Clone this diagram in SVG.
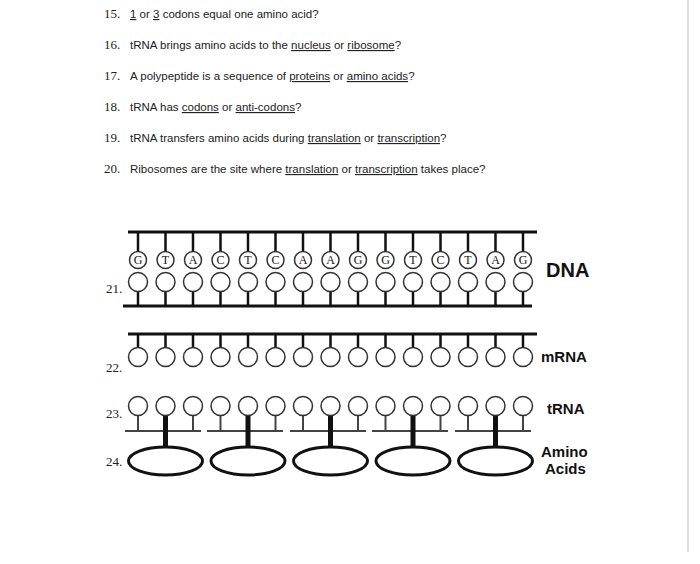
<svg xmlns="http://www.w3.org/2000/svg" width="700" height="564" viewBox="0 0 700 564">
<style>
.q{font-family:"Liberation Sans",Arial,sans-serif;font-size:11.5px;fill:#222}
.n{font-family:"Liberation Serif",serif;font-size:13px;fill:#222}
.u{text-decoration:underline}
.lbl{font-family:"Liberation Sans",Arial,sans-serif;font-weight:bold;fill:#111}
.b{font-family:"Liberation Serif",serif;font-size:12px;fill:#111;text-anchor:middle}
.c{fill:#fff;stroke:#333;stroke-width:1.5}
.s{stroke:#111;stroke-width:2.5}
.ln{stroke:#111;stroke-width:3}
</style>
<rect width="700" height="564" fill="#fff"/>
<line x1="688" y1="0" x2="688" y2="552" stroke="#bbb" stroke-width="1"/>
<g id="questions">
<text class="n" x="104" y="18">15.</text><text class="q" x="130" y="18"><tspan class="u">1</tspan> or <tspan class="u">3</tspan> codons equal one amino acid?</text>
<text class="n" x="104" y="49">16.</text><text class="q" x="130" y="49">tRNA brings amino acids to the <tspan class="u">nucleus</tspan> or <tspan class="u">ribosome</tspan>?</text>
<text class="n" x="104" y="80">17.</text><text class="q" x="130" y="80">A polypeptide is a sequence of <tspan class="u">proteins</tspan> or <tspan class="u">amino acids</tspan>?</text>
<text class="n" x="104" y="111">18.</text><text class="q" x="130" y="111">tRNA has <tspan class="u">codons</tspan> or <tspan class="u">anti-codons</tspan>?</text>
<text class="n" x="104" y="142">19.</text><text class="q" x="130" y="142">tRNA transfers amino acids during <tspan class="u">translation</tspan> or <tspan class="u">transcription</tspan>?</text>
<text class="n" x="104" y="173">20.</text><text class="q" x="130" y="173">Ribosomes are the site where <tspan class="u">translation</tspan> or <tspan class="u">transcription</tspan> takes place?</text>
</g>
<g id="dna">
<line class="ln" x1="128" y1="232" x2="537" y2="232"/>
<line class="ln" x1="123" y1="306" x2="532" y2="306"/>
<g class="s">
<path d="M138 232v20M165.5 232v20M193 232v20M220.5 232v20M248 232v20M275.5 232v20M303 232v20M330.5 232v20M358 232v20M385.5 232v20M413 232v20M440.5 232v20M468 232v20M495.5 232v20M523 232v20"/>
<path d="M138 291v15M165.5 291v15M193 291v15M220.5 291v15M248 291v15M275.5 291v15M303 291v15M330.5 291v15M358 291v15M385.5 291v15M413 291v15M440.5 291v15M468 291v15M495.5 291v15M523 291v15"/>
</g>
<g class="c">
<circle cx="138" cy="260" r="8.5"/><circle cx="165.5" cy="260" r="8.5"/><circle cx="193" cy="260" r="8.5"/><circle cx="220.5" cy="260" r="8.5"/><circle cx="248" cy="260" r="8.5"/><circle cx="275.5" cy="260" r="8.5"/><circle cx="303" cy="260" r="8.5"/><circle cx="330.5" cy="260" r="8.5"/><circle cx="358" cy="260" r="8.5"/><circle cx="385.5" cy="260" r="8.5"/><circle cx="413" cy="260" r="8.5"/><circle cx="440.5" cy="260" r="8.5"/><circle cx="468" cy="260" r="8.5"/><circle cx="495.5" cy="260" r="8.5"/><circle cx="523" cy="260" r="8.5"/>
<circle cx="138" cy="282" r="9.5"/><circle cx="165.5" cy="282" r="9.5"/><circle cx="193" cy="282" r="9.5"/><circle cx="220.5" cy="282" r="9.5"/><circle cx="248" cy="282" r="9.5"/><circle cx="275.5" cy="282" r="9.5"/><circle cx="303" cy="282" r="9.5"/><circle cx="330.5" cy="282" r="9.5"/><circle cx="358" cy="282" r="9.5"/><circle cx="385.5" cy="282" r="9.5"/><circle cx="413" cy="282" r="9.5"/><circle cx="440.5" cy="282" r="9.5"/><circle cx="468" cy="282" r="9.5"/><circle cx="495.5" cy="282" r="9.5"/><circle cx="523" cy="282" r="9.5"/>
</g>
<text class="b" x="138" y="264">G</text><text class="b" x="165.5" y="264">T</text><text class="b" x="193" y="264">A</text><text class="b" x="220.5" y="264">C</text><text class="b" x="248" y="264">T</text><text class="b" x="275.5" y="264">C</text><text class="b" x="303" y="264">A</text><text class="b" x="330.5" y="264">A</text><text class="b" x="358" y="264">G</text><text class="b" x="385.5" y="264">G</text><text class="b" x="413" y="264">T</text><text class="b" x="440.5" y="264">C</text><text class="b" x="468" y="264">T</text><text class="b" x="495.5" y="264">A</text><text class="b" x="523" y="264">G</text>
<text class="n" x="106" y="293">21.</text>
<text class="lbl" x="546" y="277" font-size="20">DNA</text>
</g>
<g id="mrna">
<line class="ln" x1="128" y1="334" x2="537" y2="334"/>
<path class="s" d="M138 334v14M165.5 334v14M193 334v14M220.5 334v14M248 334v14M275.5 334v14M303 334v14M330.5 334v14M358 334v14M385.5 334v14M413 334v14M440.5 334v14M468 334v14M495.5 334v14M523 334v14"/>
<g class="c">
<circle cx="138" cy="357" r="9.5"/><circle cx="165.5" cy="357" r="9.5"/><circle cx="193" cy="357" r="9.5"/><circle cx="220.5" cy="357" r="9.5"/><circle cx="248" cy="357" r="9.5"/><circle cx="275.5" cy="357" r="9.5"/><circle cx="303" cy="357" r="9.5"/><circle cx="330.5" cy="357" r="9.5"/><circle cx="358" cy="357" r="9.5"/><circle cx="385.5" cy="357" r="9.5"/><circle cx="413" cy="357" r="9.5"/><circle cx="440.5" cy="357" r="9.5"/><circle cx="468" cy="357" r="9.5"/><circle cx="495.5" cy="357" r="9.5"/><circle cx="523" cy="357" r="9.5"/>
</g>
<text class="n" x="106" y="372">22.</text>
<text class="lbl" x="541" y="362" font-size="15">mRNA</text>
</g>
<g id="trna">
<g stroke="#444" stroke-width="2">
<line x1="125" y1="431" x2="201" y2="431"/><line x1="207" y1="431" x2="283" y2="431"/><line x1="290" y1="431" x2="366" y2="431"/><line x1="372" y1="431" x2="448" y2="431"/><line x1="455" y1="431" x2="531" y2="431"/>
<path d="M138 415v16M193 415v16M220.5 415v16M275.5 415v16M303 415v16M358 415v16M385.5 415v16M440.5 415v16M468 415v16M523 415v16"/>
</g>
<g stroke="#111" stroke-width="5">
<path d="M165.5 415v33M248 415v33M330.5 415v33M413 415v33M495.5 415v33"/>
</g>
<g class="c">
<circle cx="138" cy="406" r="9.5"/><circle cx="165.5" cy="406" r="9.5"/><circle cx="193" cy="406" r="9.5"/><circle cx="220.5" cy="406" r="9.5"/><circle cx="248" cy="406" r="9.5"/><circle cx="275.5" cy="406" r="9.5"/><circle cx="303" cy="406" r="9.5"/><circle cx="330.5" cy="406" r="9.5"/><circle cx="358" cy="406" r="9.5"/><circle cx="385.5" cy="406" r="9.5"/><circle cx="413" cy="406" r="9.5"/><circle cx="440.5" cy="406" r="9.5"/><circle cx="468" cy="406" r="9.5"/><circle cx="495.5" cy="406" r="9.5"/><circle cx="523" cy="406" r="9.5"/>
</g>
<text class="n" x="106" y="418">23.</text>
<text class="lbl" x="547" y="414" font-size="15">tRNA</text>
</g>
<g id="amino">
<g fill="#fff" stroke="#111" stroke-width="3">
<ellipse cx="165.5" cy="461" rx="37" ry="14"/><ellipse cx="248" cy="461" rx="37" ry="14"/><ellipse cx="330.5" cy="461" rx="37" ry="14"/><ellipse cx="413" cy="461" rx="37" ry="14"/><ellipse cx="495.5" cy="461" rx="37" ry="14"/>
</g>
<text class="n" x="106" y="466">24.</text>
<text class="lbl" x="541" y="457" font-size="15">Amino</text>
<text class="lbl" x="545" y="474" font-size="15">Acids</text>
</g>
</svg>
